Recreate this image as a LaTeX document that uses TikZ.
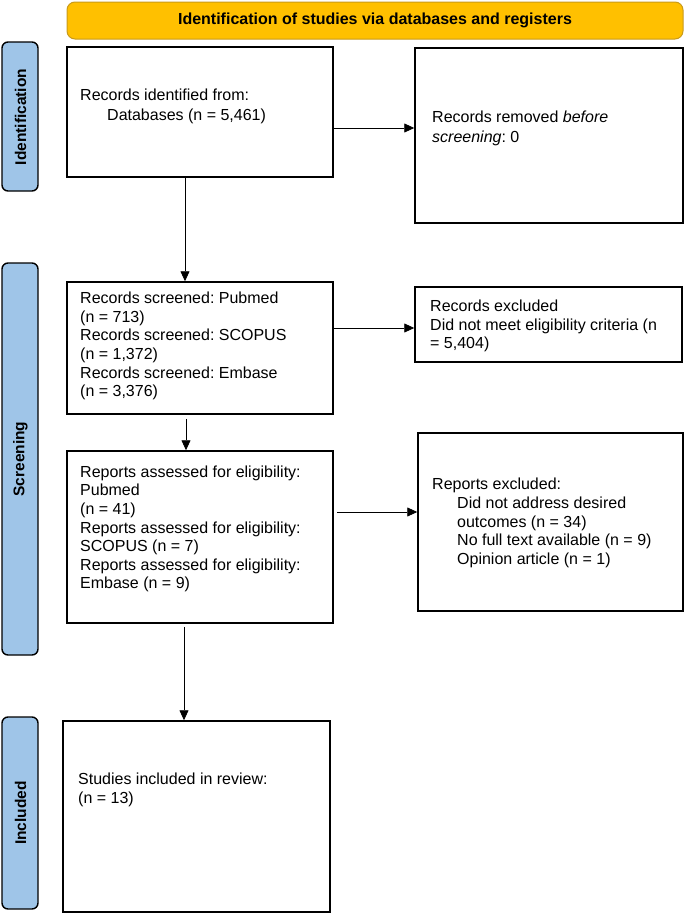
\documentclass[tikz,border=0pt]{standalone}
\usepackage{fontspec}
\setmainfont{Liberation Sans}
\usetikzlibrary{arrows.meta}
\frenchspacing
\definecolor{bannerfill}{HTML}{FFC000}
\definecolor{bannerdraw}{HTML}{C99A1A}
\definecolor{tabfill}{HTML}{9FC5E8}
\tikzset{
  boxnode/.style={draw=black, line width=1.5pt, fill=white, inner sep=0pt},
  tabnode/.style={draw=black, line width=1.4pt, fill=tabfill, rounded corners=6pt},
  txt/.style={anchor=west, align=left, inner sep=0pt, font=\fontsize{16}{18.6}\selectfont},
  tabtxt/.style={rotate=90, font=\fontsize{15.5}{18}\selectfont\bfseries, inner sep=0pt},
  arr/.style={-{Triangle[length=10pt,width=9pt]}, line width=0.8pt}
}
\begin{document}
\begin{tikzpicture}[x=1pt,y=-1pt]
\useasboundingbox (0,0) rectangle (685,913);
% banner
\draw[fill=bannerfill, draw=bannerdraw, line width=1pt, rounded corners=8pt] (67,2) rectangle (683,39);
\node[font=\fontsize{16}{18}\selectfont\bfseries, inner sep=0pt] (bantxt) at (375,20.5) {Identification of studies via databases and registers};
% side tabs
\draw[tabnode] (2,42) rectangle (38,191);
\node[tabtxt] (idtxt) at (20.5,117) {Identification};
\draw[tabnode] (2,263) rectangle (38,655);
\node[tabtxt] (sctxt) at (20.5,459) {Screening};
\draw[tabnode] (2,717) rectangle (38,909);
\node[tabtxt] (intxt) at (20.5,813) {Included};
% boxes
\node[boxnode, minimum width=266pt, minimum height=130pt] (box1) at (200,112) {};
\node[boxnode, minimum width=268pt, minimum height=175pt] (rbox1) at (549,135.5) {};
\node[boxnode, minimum width=266pt, minimum height=132pt] (box2) at (200,348) {};
\node[boxnode, minimum width=267pt, minimum height=75pt] (rbox2) at (548.5,324.5) {};
\node[boxnode, minimum width=266pt, minimum height=172pt] (box3) at (200,537) {};
\node[boxnode, minimum width=265pt, minimum height=178pt] (rbox3) at (550.5,522) {};
\node[boxnode, minimum width=267pt, minimum height=191pt] (box4) at (196.5,816.5) {};
% texts
\node[txt] (t1) at (80,106) {Records identified from:\\[1.4pt]\hspace*{27pt}Databases (n = 5,461)};
\node[txt] (t2) at (432,128) {Records removed \textit{before}\\[1.4pt]\textit{screening}: 0};
\node[txt] (t3) at (80,346) {Records screened: Pubmed\\(n = 713)\\Records screened: SCOPUS\\(n = 1,372)\\Records screened: Embase\\(n = 3,376)};
\node[txt] (t4) at (430,326) {Records excluded\\Did not meet eligibility criteria (n\\= 5,404)};
\node[txt] (t5) at (80,529) {Reports assessed for eligibility:\\Pubmed\\(n = 41)\\Reports assessed for eligibility:\\SCOPUS (n = 7)\\Reports assessed for eligibility:\\Embase (n = 9)};
\node[txt] (t6) at (432,523) {Reports excluded:\\\hspace*{25pt}Did not address desired\\\hspace*{25pt}outcomes (n = 34)\\\hspace*{25pt}No full text available (n = 9)\\\hspace*{25pt}Opinion article (n = 1)};
\node[txt] (t7) at (78,790) {Studies included in review:\\(n = 13)};
% connector helpers
\coordinate (y1) at (0,128);
\coordinate (y2) at (0,328);
\coordinate (y3) at (0,512);
\coordinate (x1) at (185,0);
\coordinate (x2) at (186,0);
\coordinate (x3) at (184,0);
% connectors
\draw[arr] (box1.east |- y1) -- (rbox1.west |- y1);
\draw[arr] (box1.south -| x1) -- (box2.north -| x1);
\draw[arr] (box2.east |- y2) -- (rbox2.west |- y2);
\draw[arr] ([yshift=-4pt]box2.south -| x2) -- (box3.north -| x2);
\draw[arr] ([xshift=3pt]box3.east |- y3) -- (rbox3.west |- y3);
\draw[arr] ([yshift=-3pt]box3.south -| x3) -- (box4.north -| x3);
\end{tikzpicture}
\end{document}
